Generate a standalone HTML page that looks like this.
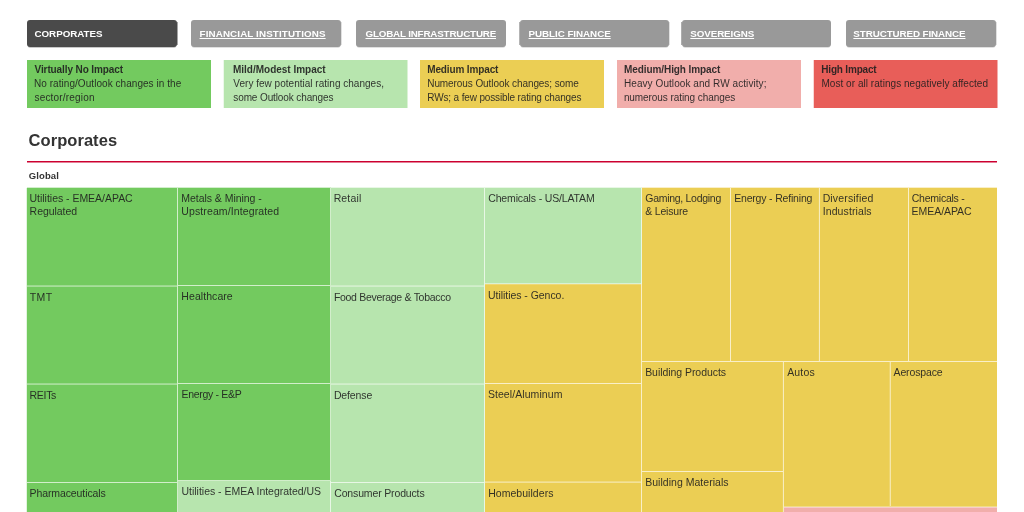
<!DOCTYPE html>
<html><head><meta charset="utf-8"><title>Corporates</title>
<style>
html,body{margin:0;padding:0;background:#fff;}
body{width:1024px;height:512px;overflow:hidden;position:relative;font-family:"Liberation Sans",sans-serif;}
.b,.t{position:absolute;}
.t{white-space:nowrap;line-height:20px;height:20px;}
.tab{top:20px;height:27px;border-radius:3px;background:#999;}
.tab.on{background:#4a4a4a;}
.leg{top:60px;height:48px;}
.g1{background:#73ca5f;}
.g2{background:#b7e5ae;}
.ye{background:#ebce54;}
.pk{background:#f1aeab;}
.rd{background:#e85e59;}
#tm{left:27px;top:188px;width:970px;height:324px;background:#f8f8ef;}
.s-tab{font-weight:bold;font-size:9.8px;color:#fff;}
.s-tabu{font-weight:bold;font-size:9.8px;color:#fff;text-decoration:underline;}
.s-lb{font-weight:bold;font-size:10px;color:rgba(30,30,30,.9);}
.s-lr{font-size:10px;color:rgba(30,30,30,.9);}
.s-h1{font-weight:bold;font-size:16.5px;color:#333;}
.s-sub{font-weight:bold;font-size:9.5px;color:#333;}
.s-c{font-size:10.5px;color:rgba(30,30,30,.9);}
</style></head><body>
<div class="b tab on" style="left:27px;width:150px"></div>
<div class="b tab on" style="left:28px;width:148px;top:46px;height:2px;opacity:.3;border-radius:0 0 3px 3px"></div>
<div class="b tab on" style="left:177px;top:22px;width:1px;height:23px;opacity:0.5;border-radius:0"></div>
<div class="b tab" style="left:191px;width:150px"></div>
<div class="b tab" style="left:192px;width:148px;top:46px;height:2px;opacity:.3;border-radius:0 0 3px 3px"></div>
<div class="b tab" style="left:341px;top:22px;width:1px;height:23px;opacity:0.3;border-radius:0"></div>
<div class="b tab" style="left:356px;width:150px"></div>
<div class="b tab" style="left:357px;width:148px;top:46px;height:2px;opacity:.3;border-radius:0 0 3px 3px"></div>
<div class="b tab" style="left:520px;width:149px"></div>
<div class="b tab" style="left:521px;width:147px;top:46px;height:2px;opacity:.3;border-radius:0 0 3px 3px"></div>
<div class="b tab" style="left:519px;top:22px;width:1px;height:23px;opacity:0.75;border-radius:0"></div>
<div class="b tab" style="left:669px;top:22px;width:1px;height:23px;opacity:0.3;border-radius:0"></div>
<div class="b tab" style="left:682px;width:149px"></div>
<div class="b tab" style="left:683px;width:147px;top:46px;height:2px;opacity:.3;border-radius:0 0 3px 3px"></div>
<div class="b tab" style="left:681px;top:22px;width:1px;height:23px;opacity:0.8;border-radius:0"></div>
<div class="b tab" style="left:846px;width:150px"></div>
<div class="b tab" style="left:847px;width:148px;top:46px;height:2px;opacity:.3;border-radius:0 0 3px 3px"></div>
<div class="b tab" style="left:996px;top:22px;width:1px;height:23px;opacity:0.3;border-radius:0"></div>
<div class="b leg g1" style="left:27px;width:184px"></div>
<div class="b leg g2" style="left:224px;width:183px"></div>
<div class="b g2" style="left:223px;top:60px;width:1px;height:48px;opacity:0.25"></div>
<div class="b g2" style="left:407px;top:60px;width:1px;height:48px;opacity:0.5"></div>
<div class="b leg ye" style="left:420px;width:184px"></div>
<div class="b leg pk" style="left:617px;width:184px"></div>
<div class="b leg rd" style="left:814px;width:183px"></div>
<div class="b rd" style="left:813px;top:60px;width:1px;height:48px;opacity:0.25"></div>
<div class="b rd" style="left:997px;top:60px;width:1px;height:48px;opacity:0.5"></div>
<div class="b" style="left:27px;top:161px;width:970px;height:1px;background:#cc0030"></div>
<div class="b" style="left:27px;top:162px;width:970px;height:1px;background:#cc0030;opacity:.5"></div>
<div class="b" id="tm"></div>
<div class="b g1" style="left:27px;top:188px;width:304px;height:324px"></div>
<div class="b g2" style="left:178px;top:481px;width:153px;height:31px"></div>
<div class="b g2" style="left:331px;top:188px;width:311px;height:324px"></div>
<div class="b ye" style="left:485px;top:284px;width:157px;height:228px"></div>
<div class="b ye" style="left:642px;top:188px;width:355px;height:324px"></div>
<div class="b pk" style="left:784px;top:507px;width:213px;height:5px"></div>
<div class="b g1" style="left:27px;top:187px;width:304px;height:1px;opacity:.32"></div>
<div class="b g2" style="left:331px;top:187px;width:311px;height:1px;opacity:.32"></div>
<div class="b ye" style="left:642px;top:187px;width:355px;height:1px;opacity:.32"></div>
<div class="b g1" style="left:26px;top:188px;width:1px;height:324px;opacity:.2"></div>
<div class="b" style="left:177px;top:188px;width:1px;height:324px;background:rgba(255,255,255,0.68)"></div>
<div class="b" style="left:330px;top:188px;width:1px;height:324px;background:rgba(255,255,255,0.68)"></div>
<div class="b" style="left:484px;top:188px;width:1px;height:324px;background:rgba(255,255,255,0.68)"></div>
<div class="b" style="left:641px;top:188px;width:1px;height:324px;background:rgba(255,255,255,0.68)"></div>
<div class="b" style="left:730px;top:188px;width:1px;height:173px;background:rgba(255,255,255,0.68)"></div>
<div class="b" style="left:819px;top:188px;width:1px;height:173px;background:rgba(255,255,255,0.612)"></div>
<div class="b" style="left:818px;top:188px;width:1px;height:173px;background:rgba(255,255,255,0.068)"></div>
<div class="b" style="left:908px;top:188px;width:1px;height:173px;background:rgba(255,255,255,0.68)"></div>
<div class="b" style="left:783px;top:362px;width:1px;height:150px;background:rgba(255,255,255,0.612)"></div>
<div class="b" style="left:782px;top:362px;width:1px;height:150px;background:rgba(255,255,255,0.068)"></div>
<div class="b" style="left:890px;top:362px;width:1px;height:144px;background:rgba(255,255,255,0.51)"></div>
<div class="b" style="left:889px;top:362px;width:1px;height:144px;background:rgba(255,255,255,0.17)"></div>
<div class="b" style="left:27px;top:285px;width:150px;height:1px;background:rgba(255,255,255,0.306)"></div>
<div class="b" style="left:27px;top:286px;width:150px;height:1px;background:rgba(255,255,255,0.374)"></div>
<div class="b" style="left:27px;top:383px;width:150px;height:1px;background:rgba(255,255,255,0.306)"></div>
<div class="b" style="left:27px;top:384px;width:150px;height:1px;background:rgba(255,255,255,0.374)"></div>
<div class="b" style="left:27px;top:482px;width:150px;height:1px;background:rgba(255,255,255,0.68)"></div>
<div class="b" style="left:178px;top:285px;width:152px;height:1px;background:rgba(255,255,255,0.68)"></div>
<div class="b" style="left:178px;top:383px;width:152px;height:1px;background:rgba(255,255,255,0.68)"></div>
<div class="b" style="left:178px;top:480px;width:152px;height:1px;background:rgba(255,255,255,0.68)"></div>
<div class="b" style="left:331px;top:285px;width:153px;height:1px;background:rgba(255,255,255,0.306)"></div>
<div class="b" style="left:331px;top:286px;width:153px;height:1px;background:rgba(255,255,255,0.374)"></div>
<div class="b" style="left:331px;top:383px;width:153px;height:1px;background:rgba(255,255,255,0.306)"></div>
<div class="b" style="left:331px;top:384px;width:153px;height:1px;background:rgba(255,255,255,0.374)"></div>
<div class="b" style="left:331px;top:482px;width:153px;height:1px;background:rgba(255,255,255,0.68)"></div>
<div class="b" style="left:485px;top:283px;width:156px;height:1px;background:rgba(255,255,255,0.476)"></div>
<div class="b" style="left:485px;top:284px;width:156px;height:1px;background:rgba(255,255,255,0.204)"></div>
<div class="b" style="left:485px;top:383px;width:156px;height:1px;background:rgba(255,255,255,0.68)"></div>
<div class="b" style="left:485px;top:481px;width:156px;height:1px;background:rgba(255,255,255,0.272)"></div>
<div class="b" style="left:485px;top:482px;width:156px;height:1px;background:rgba(255,255,255,0.408)"></div>
<div class="b" style="left:642px;top:361px;width:355px;height:1px;background:rgba(255,255,255,0.68)"></div>
<div class="b" style="left:642px;top:471px;width:141px;height:1px;background:rgba(255,255,255,0.68)"></div>
<div class="b" style="left:784px;top:506px;width:213px;height:1px;background:rgba(255,255,255,0.306)"></div>
<div class="b" style="left:784px;top:507px;width:213px;height:1px;background:rgba(255,255,255,0.374)"></div>
<div class="b" style="left:0;top:0;width:1024px;height:512px;will-change:transform">
<div id="t0" class="t s-tab" style="left:34.51px;top:24px;letter-spacing:-0.04px;">CORPORATES</div>
<div id="t1" class="t s-tabu" style="left:199.57px;top:24px;letter-spacing:0.123px;">FINANCIAL INSTITUTIONS</div>
<div id="t2" class="t s-tabu" style="left:365.5px;top:24px;letter-spacing:-0.177px;">GLOBAL INFRASTRUCTURE</div>
<div id="t3" class="t s-tabu" style="left:528.55px;top:24px;letter-spacing:-0.043px;">PUBLIC FINANCE</div>
<div id="t4" class="t s-tabu" style="left:690.34px;top:24px;letter-spacing:-0.102px;">SOVEREIGNS</div>
<div id="t5" class="t s-tabu" style="left:853.36px;top:24px;letter-spacing:-0.092px;">STRUCTURED FINANCE</div>
<div id="t6" class="t s-lb" style="left:34.56px;top:60px;letter-spacing:-0.106px;">Virtually No Impact</div>
<div id="t7" class="t s-lr" style="left:34.02px;top:74px;letter-spacing:0.05px;">No rating/Outlook changes in the</div>
<div id="t8" class="t s-lr" style="left:34.47px;top:88px;letter-spacing:0.193px;">sector/region</div>
<div id="t9" class="t s-lb" style="left:232.98px;top:60px;letter-spacing:-0.005px;">Mild/Modest Impact</div>
<div id="t10" class="t s-lr" style="left:233.34px;top:74px;letter-spacing:0.016px;">Very few potential rating changes,</div>
<div id="t11" class="t s-lr" style="left:233.31px;top:88px;letter-spacing:-0.112px;">some Outlook changes</div>
<div id="t12" class="t s-lb" style="left:427.22px;top:60px;letter-spacing:-0.13px;">Medium Impact</div>
<div id="t13" class="t s-lr" style="left:427.24px;top:74px;letter-spacing:-0.08px;">Numerous Outlook changes; some</div>
<div id="t14" class="t s-lr" style="left:427.24px;top:88px;letter-spacing:-0.14px;">RWs; a few possible rating changes</div>
<div id="t15" class="t s-lb" style="left:624.04px;top:60px;letter-spacing:-0.083px;">Medium/High Impact</div>
<div id="t16" class="t s-lr" style="left:624.01px;top:74px;letter-spacing:0.07px;">Heavy Outlook and RW activity;</div>
<div id="t17" class="t s-lr" style="left:623.88px;top:88px;letter-spacing:-0.072px;">numerous rating changes</div>
<div id="t18" class="t s-lb" style="left:821.33px;top:60px;letter-spacing:-0.193px;">High Impact</div>
<div id="t19" class="t s-lr" style="left:821.46px;top:74px;letter-spacing:0.043px;">Most or all ratings negatively affected</div>
<div id="t20" class="t s-h1" style="left:28.55px;top:130px;letter-spacing:0.056px;">Corporates</div>
<div id="t21" class="t s-sub" style="left:28.84px;top:166px;letter-spacing:0.093px;">Global</div>
<div id="t22" class="t s-c" style="left:29.57px;top:188px;letter-spacing:-0.026px;">Utilities - EMEA/APAC</div>
<div id="t23" class="t s-c" style="left:29.62px;top:201px;letter-spacing:-0.059px;">Regulated</div>
<div id="t24" class="t s-c" style="left:29.65px;top:287px;letter-spacing:0.533px;">TMT</div>
<div id="t25" class="t s-c" style="left:29.6px;top:385px;letter-spacing:-0.315px;">REITs</div>
<div id="t26" class="t s-c" style="left:29.6px;top:483px;letter-spacing:-0.105px;">Pharmaceuticals</div>
<div id="t27" class="t s-c" style="left:181.34px;top:188px;letter-spacing:-0.046px;">Metals &amp; Mining -</div>
<div id="t28" class="t s-c" style="left:181.29px;top:201px;letter-spacing:0.113px;">Upstream/Integrated</div>
<div id="t29" class="t s-c" style="left:181.36px;top:286px;letter-spacing:0.063px;">Healthcare</div>
<div id="t30" class="t s-c" style="left:181.62px;top:384px;letter-spacing:-0.316px;">Energy - E&amp;P</div>
<div id="t31" class="t s-c" style="left:181.52px;top:481px;letter-spacing:-0.017px;">Utilities - EMEA Integrated/US</div>
<div id="t32" class="t s-c" style="left:333.64px;top:188px;letter-spacing:0.156px;">Retail</div>
<div id="t33" class="t s-c" style="left:333.88px;top:287px;letter-spacing:-0.292px;">Food Beverage &amp; Tobacco</div>
<div id="t34" class="t s-c" style="left:333.9px;top:385px;letter-spacing:-0.122px;">Defense</div>
<div id="t35" class="t s-c" style="left:334.25px;top:483px;letter-spacing:-0.15px;">Consumer Products</div>
<div id="t36" class="t s-c" style="left:488.25px;top:188px;letter-spacing:-0.153px;">Chemicals - US/LATAM</div>
<div id="t37" class="t s-c" style="left:488.08px;top:285px;letter-spacing:-0.047px;">Utilities - Genco.</div>
<div id="t38" class="t s-c" style="left:487.89px;top:384px;letter-spacing:0.075px;">Steel/Aluminum</div>
<div id="t39" class="t s-c" style="left:488.15px;top:483px;letter-spacing:0.046px;">Homebuilders</div>
<div id="t40" class="t s-c" style="left:645.25px;top:188px;letter-spacing:-0.285px;">Gaming, Lodging</div>
<div id="t41" class="t s-c" style="left:645.34px;top:201px;letter-spacing:-0.205px;">&amp; Leisure</div>
<div id="t42" class="t s-c" style="left:734.15px;top:188px;letter-spacing:-0.177px;">Energy - Refining</div>
<div id="t43" class="t s-c" style="left:822.64px;top:188px;letter-spacing:0.166px;">Diversified</div>
<div id="t44" class="t s-c" style="left:822.69px;top:201px;letter-spacing:0.108px;">Industrials</div>
<div id="t45" class="t s-c" style="left:911.74px;top:188px;letter-spacing:-0.237px;">Chemicals -</div>
<div id="t46" class="t s-c" style="left:911.6px;top:201px;letter-spacing:-0.055px;">EMEA/APAC</div>
<div id="t47" class="t s-c" style="left:645.15px;top:362px;letter-spacing:-0.052px;">Building Products</div>
<div id="t48" class="t s-c" style="left:645.15px;top:472px;letter-spacing:0.032px;">Building Materials</div>
<div id="t49" class="t s-c" style="left:787.17px;top:362px;letter-spacing:0.177px;">Autos</div>
<div id="t50" class="t s-c" style="left:893.54px;top:362px;letter-spacing:-0.143px;">Aerospace</div>
</div>
</body></html>
